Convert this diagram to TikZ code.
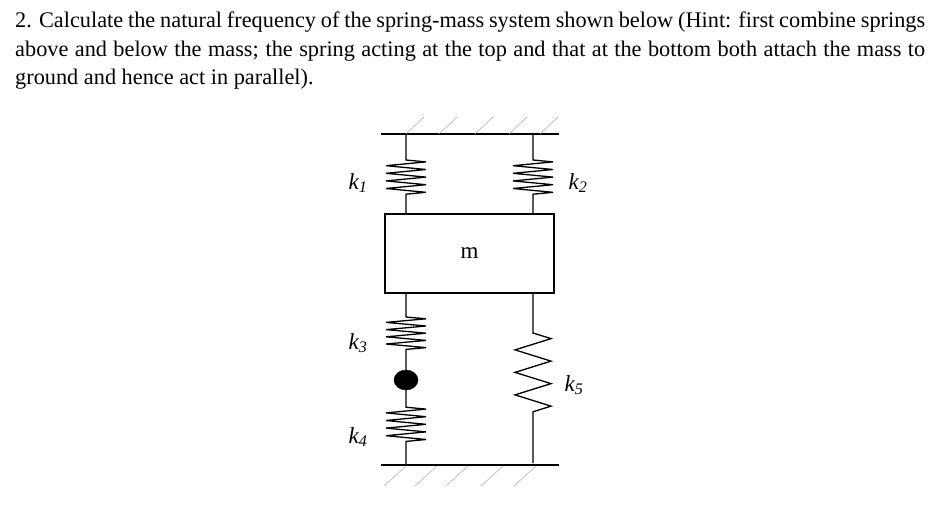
\documentclass[tikz,border=0pt]{standalone}
\usepackage{fontspec}
\setmainfont{Liberation Serif}
\usetikzlibrary{decorations.pathmorphing,shapes.geometric}
\begin{document}
\begin{tikzpicture}[x=1pt,y=-1pt,
  spr/.style={decorate,decoration={zigzag,segment length=7.6pt,amplitude=20pt,pre length=26pt,post length=16pt}},
  bar/.style={line width=2.4pt},
  hatch/.style={gray!70,line width=0.5pt},
  lab/.style={font=\fontsize{23}{23}\selectfont\itshape},
  wire/.style={line width=1.3pt}]
\useasboundingbox (0,0) rectangle (950,525);
\node[anchor=north west,inner sep=0pt,text width=910pt,align=justify,font=\fontsize{22.3}{28.5}\selectfont] (txt) at (15,12)
{2. Calculate the natural frequency of the spring-mass system shown below (Hint: first combine springs above and below the mass; the spring acting at the top and that at the bottom both attach the mass to ground and hence act in parallel).};
% top ground
\coordinate (tl) at (381,134); \coordinate (tr) at (559,134);
\draw[bar] (tl) -- (tr);
\foreach \x in {406,439,475,509,540} \draw[hatch] (\x,134) -- (\x+18,117);
% bottom ground
\coordinate (bl) at (381,465); \coordinate (br) at (559,465);
\draw[bar] (bl) -- (br);
\foreach \x in {406,437,468,503,536} \draw[hatch] (\x,466) -- (\x-22,486);
% mass
\node[draw,line width=1.8pt,minimum width=169pt,minimum height=79pt,inner sep=0pt,font=\fontsize{23}{23}\selectfont] (m) at (469.5,253.5) {m};
% springs
\coordinate (a1) at (406,134); \coordinate (b1) at (406,214);
\coordinate (a2) at (533,134); \coordinate (b2) at (533,214);
\draw[wire,spr] (a1) -- (b1);
\draw[wire,spr] (a2) -- (b2);
\coordinate (a3) at (406,293);
\node[fill=black,ellipse,minimum width=24pt,minimum height=20pt,inner sep=0pt,draw] (dot) at (406,380) {};
\draw[wire,decorate,decoration={zigzag,segment length=7.2pt,amplitude=20pt,pre length=24pt,post length=17pt}] (a3) -- (dot.north);
\draw[wire,decorate,decoration={zigzag,segment length=7.6pt,amplitude=20pt,pre length=17pt,post length=20pt}] (dot.south) -- (406,465);
\coordinate (a5) at (533,293); \coordinate (b5) at (533,463);
\draw[wire,decorate,decoration={zigzag,segment length=22.5pt,amplitude=18pt,pre length=40pt,post length=41pt}] (a5) -- (b5);
\node[lab] (k1) at (358,183) {k\textsubscript{1}};
\node[lab] (k2) at (578,183) {k\textsubscript{2}};
\node[lab] (k3) at (358,343) {k\textsubscript{3}};
\node[lab] (k4) at (358,437) {k\textsubscript{4}};
\node[lab] (k5) at (574,385) {k\textsubscript{5}};
\end{tikzpicture}
\end{document}
